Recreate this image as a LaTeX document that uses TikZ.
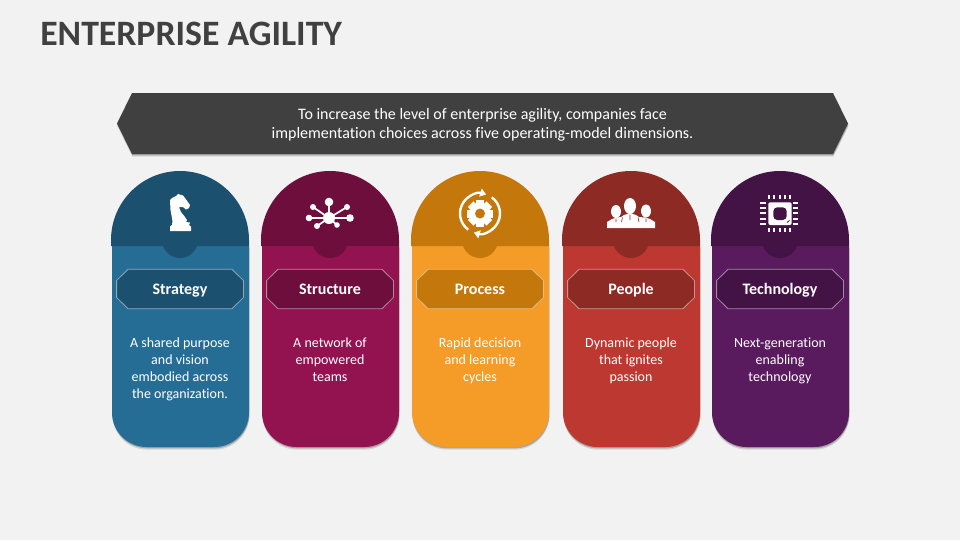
\documentclass[tikz,border=0pt]{standalone}
\usepackage{fontspec}
\setmainfont[Ligatures=NoCommon]{Carlito}
\usepackage{xcolor}
\usetikzlibrary{arrows.meta}
\usetikzlibrary{shadows}
\definecolor{pagebg}{HTML}{F2F2F2}
\definecolor{bannerc}{HTML}{404040}
\definecolor{bluec}{HTML}{266D96}
\definecolor{blued}{HTML}{1C506F}
\definecolor{magc}{HTML}{921350}
\definecolor{magd}{HTML}{6D0E3C}
\definecolor{orac}{HTML}{F49C27}
\definecolor{orad}{HTML}{C4770A}
\definecolor{redc}{HTML}{BD3830}
\definecolor{redd}{HTML}{8D2A24}
\definecolor{purc}{HTML}{5A1A5E}
\definecolor{purd}{HTML}{431346}
% name, centre x, body colour, dark colour, label, description
\newcommand{\agilitycard}[6]{
\fill[#3,CardShadow] (#2-68,-246) [rounded corners=26pt] -- (#2-68,-447) -- (#2+69,-447) [sharp corners] -- (#2+69,-246) -- cycle;
\fill[#4] (#2-69,-246) -- (#2-69,-240) arc[start angle=180,end angle=0,radius=69] -- (#2+69,-246) -- cycle;
\fill[#4] (#2,-240) circle[radius=18];
\filldraw[fill=#4,draw=#4!50!white,line width=.6pt] (#2-63.4,-280.5) -- (#2-52,-269.3) -- (#2+52,-269.3) -- (#2+63.4,-280.5) -- (#2+63.4,-297.5) -- (#2+52,-308.7) -- (#2-52,-308.7) -- (#2-63.4,-297.5) -- cycle;
\node[CardLabel] (#1label) at (#2,-294) {#5};
\node[CardText] (#1text) at (#2,-337.5) {#6};
}
\begin{document}
\begin{tikzpicture}[
x=.75pt,y=.75pt,
CardShadow/.style={
drop shadow={shadow xshift=.3pt,shadow yshift=-2pt,opacity=.12,fill=black},
drop shadow={shadow xshift=.3pt,shadow yshift=-1pt,opacity=.22,fill=black}},
CardLabel/.style={anchor=base,inner sep=0pt,text=white,font=\fontsize{12}{14}\selectfont\bfseries},
CardText/.style={anchor=north,align=center,text=white,inner sep=0pt,font=\fontsize{10.5}{12.75}\selectfont},
IconLine/.style={white,line width=1.3pt}
]
\useasboundingbox (0,-540) rectangle (960,0);
\fill[pagebg] (0,-540) rectangle (960,0);

\node[anchor=west,inner sep=0pt,text=bannerc,font=\fontsize{26.8}{32}\selectfont\bfseries] (title) at (40,-34) {ENTERPRISE AGILITY};

\fill[bannerc,CardShadow] (117,-123.5) -- (132,-93) -- (833,-93) -- (848,-123.5) -- (833,-154) -- (132,-154) -- cycle;
\node[align=center,text=white,inner sep=0pt,font=\fontsize{12}{14.25}\selectfont] (banner) at (482.5,-124.5) {To increase the level of enterprise agility, companies face\\implementation choices across five operating-model dimensions.};

\agilitycard{strategy}{180}{bluec}{blued}{Strategy}{A shared purpose\\and vision\\embodied across\\the organization.}
\agilitycard{structure}{330}{magc}{magd}{Structure}{A network of\\empowered\\teams}
\agilitycard{process}{480}{orac}{orad}{Process}{Rapid decision\\and learning\\cycles}
\agilitycard{people}{631}{redc}{redd}{People}{Dynamic people\\that ignites\\passion}
\agilitycard{technology}{780}{purc}{purd}{Technology}{Next-generation\\enabling\\technology}

% knight
\fill[white] (170,-231) -- (170,-226.5) -- (172,-225) -- (172.5,-221) -- (170.5,-210) -- (170,-200) -- (172,-198) -- (176,-196) -- (178,-194) -- (183,-195.5) -- (185,-198) -- (190,-205) -- (189,-208) -- (186,-209.5) -- (183,-207) -- (179,-207) -- (181,-212) -- (185,-217) -- (187,-220) -- (186,-222) -- (190,-222.5) -- (189,-225) -- (191,-226.5) -- (191,-231) -- cycle;

% network
\foreach \Xn/\Yn/\Rn in {329/202/4.3,313/207/3,347/207/3,309/218/3.3,350/218/3.8,317/226/3,337/225/2.8}{
\draw[IconLine] (329,-218) -- (\Xn,-\Yn);
\fill[white] (\Xn,-\Yn) circle[radius=\Rn];
}
\fill[white] (329,-218) circle[radius=6];

% gear and cycle
\coordinate (G) at (480,-213.5);
\foreach \a in {0,45,...,315}{
\fill[white,rotate around={\a:(G)}] (476,-213.5) rectangle (484,-200.3);
}
\fill[white] (G) circle[radius=11];
\fill[orad] (G) circle[radius=5];
\draw[white,line width=1.8pt,-{Triangle[length=4.5pt,width=6pt]}] (480,-213.5) ++(234:20) arc[start angle=234,end angle=72,radius=20];
\draw[white,line width=1.8pt,-{Triangle[length=4.5pt,width=6pt]}] (480,-213.5) ++(54:20) arc[start angle=54,end angle=-108,radius=20];

% people
\fill[white] (607,-228) -- (607,-222) -- (612,-219) -- (617,-217.5) -- (621,-217) -- (624,-215) -- (630,-213) -- (636,-215) -- (639,-217) -- (645,-217.5) -- (650,-219) -- (655,-222) -- (655,-228) -- cycle;
\fill[white] (630,-206) ellipse[x radius=6,y radius=8];
\fill[white] (616,-211.5) ellipse[x radius=5,y radius=6.5];
\fill[white] (646,-211) ellipse[x radius=5,y radius=6.5];
\draw[redd,line width=.5pt] (616,-218.5) -- (616,-222) (630,-214.5) -- (630,-220) (646,-218.5) -- (646,-222) (622.5,-217.5) -- (621.5,-222) (638,-217.5) -- (639,-222);

% chip
\fill[white,rounded corners=1.5pt] (768.3,-225) rectangle (791.7,-202.3);
\fill[purd,rounded corners=3pt] (773.3,-220) rectangle (786.7,-207.3);
\draw[purd,line width=.6pt] (787,-222.5) -- (789.5,-220.5);
\foreach \p in {769,774.3,779.6,784.9,790.2}{
\fill[white] (\p-1.1,-199.3) rectangle (\p+1.1,-195.3);
\fill[white] (\p-1.1,-231.7) rectangle (\p+1.1,-227.7);
}
\foreach \p in {202.7,208,213.3,218.7,224}{
\fill[white] (760,-\p-1.1) rectangle (766,-\p+1.1);
\fill[white] (793.3,-\p-1.1) rectangle (798.3,-\p+1.1);
}
\end{tikzpicture}
\end{document}
